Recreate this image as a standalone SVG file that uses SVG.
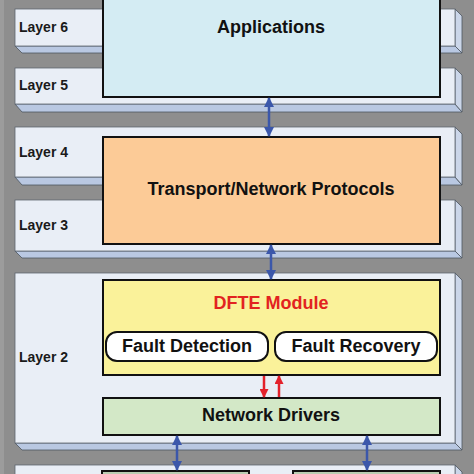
<svg xmlns="http://www.w3.org/2000/svg" width="474" height="474" viewBox="0 0 474 474">
<defs>
<style>
.face{fill:#e9eef6;stroke:#5f6670;stroke-width:0.8}
.bev{fill:#b9c8e2;stroke:#4d5560;stroke-width:0.8}
.bevr{fill:#cbd6e9;stroke:#4d5560;stroke-width:0.8}
.lbl{font-family:"Liberation Sans",Arial,sans-serif;font-weight:bold;font-size:14px;fill:#1a1a1a}
.big{font-family:"Liberation Sans",Arial,sans-serif;font-weight:bold;font-size:18px;fill:#111;text-anchor:middle}
.box{stroke:#111;stroke-width:2}
.pill{fill:#fff;stroke:#111;stroke-width:2}
.blue{stroke:#3b57aa;stroke-width:2.5;fill:none}
.red{stroke:#e3212b;stroke-width:2.5;fill:none}
</style>
<marker id="hb" viewBox="0 0 10 10" refX="9" refY="5" markerWidth="10" markerHeight="10" markerUnits="userSpaceOnUse" orient="auto-start-reverse">
<path d="M0,0 L10,5 L0,10 Z" fill="#3b57aa"/>
</marker>
<marker id="hr" viewBox="0 0 10 10" refX="9" refY="5" markerWidth="10" markerHeight="9" markerUnits="userSpaceOnUse" orient="auto">
<path d="M0,0 L10,5 L0,10 Z" fill="#e3212b"/>
</marker>
</defs>
<rect x="0" y="0" width="474" height="474" fill="#8e8e8e"/>
<rect x="0" y="0" width="4" height="474" fill="#9c9c9c"/>

<g id="layer6">
<polygon class="bev" points="15,46 455,46 462,53 22,53"/>
<polygon class="bevr" points="455,9 462,16 462,53 455,46"/>
<rect class="face" x="15" y="9" width="440" height="37"/>
<text class="lbl" x="19" y="32">Layer 6</text>
</g>
<g id="layer5">
<polygon class="bev" points="15,104 455,104 462,112 22,112"/>
<polygon class="bevr" points="455,68 462,75 462,112 455,104"/>
<rect class="face" x="15" y="68" width="440" height="36"/>
<text class="lbl" x="19" y="90">Layer 5</text>
</g>
<g id="layer4">
<polygon class="bev" points="15,177 455,177 462,185 22,185"/>
<polygon class="bevr" points="455,127 462,134 462,185 455,177"/>
<rect class="face" x="15" y="127" width="440" height="50"/>
<text class="lbl" x="19" y="157">Layer 4</text>
</g>
<g id="layer3">
<polygon class="bev" points="15,251 455,251 462,258 22,258"/>
<polygon class="bevr" points="455,200 462,207 462,258 455,251"/>
<rect class="face" x="15" y="200" width="440" height="51"/>
<text class="lbl" x="19" y="230">Layer 3</text>
</g>
<g id="layer2">
<polygon class="bev" points="15,443 455,443 462,450 22,450"/>
<polygon class="bevr" points="455,273 462,280 462,450 455,443"/>
<rect class="face" x="15" y="273" width="440" height="170"/>
<text class="lbl" x="19" y="362">Layer 2</text>
</g>
<g id="layer1">
<polygon class="bevr" points="455,465 462,472 462,480 455,480"/>
<rect class="face" x="15" y="465" width="440" height="20"/>
</g>

<g id="applications">
<rect class="box" x="103" y="-5" width="337" height="102" fill="#d4ecf3"/>
<text class="big" x="271" y="33">Applications</text>
</g>
<g id="transport">
<rect class="box" x="103" y="137" width="337" height="107" fill="#fccb97"/>
<text class="big" x="271" y="195">Transport/Network Protocols</text>
</g>
<g id="dfte">
<rect class="box" x="103" y="280" width="337" height="95" fill="#faf29a"/>
<text class="big" x="271" y="309" style="fill:#e2231f">DFTE Module</text>
</g>
<g id="fault-detection">
<rect class="pill" x="106" y="332" width="162" height="29" rx="11"/>
<text class="big" x="187" y="352">Fault Detection</text>
</g>
<g id="fault-recovery">
<rect class="pill" x="275" y="332" width="162" height="29" rx="11"/>
<text class="big" x="356" y="352">Fault Recovery</text>
</g>
<g id="network-drivers">
<rect class="box" x="103" y="398" width="337" height="37" fill="#d3e8c7"/>
<text class="big" x="271" y="421">Network Drivers</text>
</g>
<g id="layer1-left">
<rect class="box" x="102" y="471" width="147" height="20" fill="#b9cdb2"/>
</g>
<g id="layer1-right">
<rect class="box" x="293" y="471" width="147" height="20" fill="#b9cdb2"/>
</g>

<g id="connectors">
<path class="blue" d="M269,98 L269,136" marker-start="url(#hb)" marker-end="url(#hb)"/>
<path class="blue" d="M271,245 L271,279" marker-start="url(#hb)" marker-end="url(#hb)"/>
<path class="blue" d="M177,436 L177,470" marker-start="url(#hb)" marker-end="url(#hb)"/>
<path class="blue" d="M367,436 L367,470" marker-start="url(#hb)" marker-end="url(#hb)"/>
<path class="red" d="M264,376 L264,397" marker-end="url(#hr)"/>
<path class="red" d="M279,397 L279,376" marker-end="url(#hr)"/>
</g>
</svg>
